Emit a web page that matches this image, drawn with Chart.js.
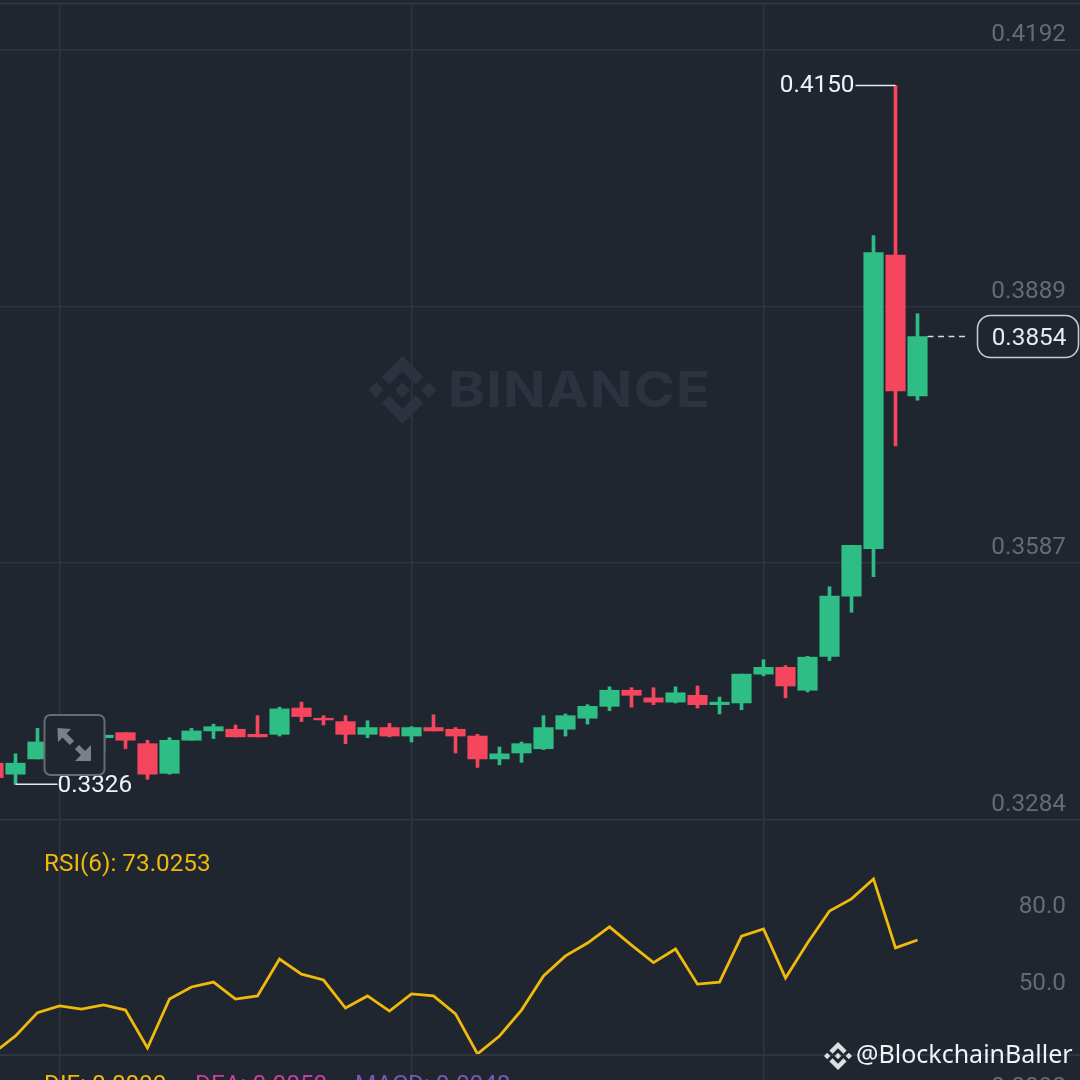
<!DOCTYPE html>
<html>
<head>
<meta charset="utf-8">
<title>Candlestick chart</title>
<style>
  html, body { margin: 0; padding: 0; background: #1f2630; }
  canvas { display: block; }
</style>
<script src="https://cdn.jsdelivr.net/npm/chart.js@4"></script>
</head>
<body>
<canvas id="chart" width="1080" height="1080"></canvas>
<script>
const opens = [
  0.3351, 0.3338, 0.3356, 0.3372, 0.3376, 0.3381, 0.3387, 0.3374, 0.3339, 0.3378,
  0.3389, 0.3391, 0.3385, 0.3385, 0.3416, 0.3404, 0.3400, 0.3385, 0.3393, 0.3383,
  0.3393, 0.3391, 0.3383, 0.3356, 0.3363, 0.3368, 0.3391, 0.3404, 0.3418, 0.3437,
  0.3428, 0.3423, 0.3431, 0.3420, 0.3422, 0.3456, 0.3464, 0.3437, 0.3477, 0.3548,
  0.3604, 0.3950, 0.3784
];
const closes = [
  0.3334, 0.3351, 0.3376, 0.3387, 0.3383, 0.3384, 0.3378, 0.3338, 0.3378, 0.3389,
  0.3394, 0.3382, 0.3382, 0.3415, 0.3406, 0.3402, 0.3385, 0.3393, 0.3383, 0.3393,
  0.3389, 0.3383, 0.3356, 0.3362, 0.3374, 0.3393, 0.3407, 0.3418, 0.3437, 0.3431,
  0.3423, 0.3434, 0.3420, 0.3423, 0.3456, 0.3464, 0.3442, 0.3476, 0.3548, 0.3608,
  0.3953, 0.3790, 0.3854
];
const highs = [
  0.3351, 0.3362, 0.3392, 0.3392, 0.3387, 0.3384, 0.3387, 0.3378, 0.3381, 0.3392,
  0.3397, 0.3396, 0.3407, 0.3417, 0.3423, 0.3407, 0.3407, 0.3401, 0.3398, 0.3394,
  0.3408, 0.3393, 0.3385, 0.3370, 0.3376, 0.3407, 0.3409, 0.3420, 0.3441, 0.3440,
  0.3440, 0.3441, 0.3442, 0.3429, 0.3456, 0.3473, 0.3466, 0.3477, 0.3559, 0.3608,
  0.3973, 0.4150, 0.3881
];
const lows = [
  0.3334, 0.3326, 0.3356, 0.3367, 0.3372, 0.3364, 0.3368, 0.3332, 0.3338, 0.3378,
  0.3380, 0.3382, 0.3382, 0.3383, 0.3400, 0.3396, 0.3374, 0.3381, 0.3382, 0.3376,
  0.3389, 0.3363, 0.3346, 0.3349, 0.3352, 0.3367, 0.3383, 0.3397, 0.3413, 0.3417,
  0.3420, 0.3422, 0.3416, 0.3409, 0.3414, 0.3454, 0.3428, 0.3435, 0.3472, 0.3529,
  0.3571, 0.3725, 0.3779
];
const rsiValues = [
  29.0, 35.6, 44.7, 47.3, 46.1, 47.7, 45.7, 30.9, 50.0, 54.7,
  56.6, 50.0, 51.2, 65.6, 59.7, 57.4, 46.5, 51.2, 45.3, 52.0,
  51.2, 44.2, 28.6, 35.6, 45.7, 59.0, 66.8, 71.8, 78.1, 71.0,
  64.2, 69.5, 55.8, 56.6, 74.5, 77.3, 58.2, 71.8, 84.3, 89.0,
  96.8, 69.9, 73.0
];

const priceTicks = [0.4192, 0.3889, 0.3587, 0.3284];
const rsiTicks = [80, 50];
const timeTicks = [0, 16, 32];

const maxPriceLabel = "0.4150";
const minPriceLabel = "0.3326";
const lastPriceLabel = "0.3854";
const rsiLabel = "RSI(6): 73.0253";
const macdLabels = ["DIF: 0.0099", "DEA: 0.0050", "MACD: 0.0048"];
const macdTickLabel = "0.0098";
const watermarkText = "BINANCE";
const handleText = "@BlockchainBaller";

const BG = "#1f2630";
const GRID = "#2f3541";
const UP = "#2ebd85";
const DOWN = "#f6465d";
const AXIS_TEXT = "#656b76";
const FONT = "Roboto, sans-serif";

const candleX = opens.map((_, i) => i - 3);
const isUp = opens.map((o, i) => closes[i] >= o);
const candleColors = isUp.map(up => up ? UP : DOWN);


/* =====================================================
   BINANCE LOGO
===================================================== */
function drawLogo(ctx, cx, cy, r, color) {

  const diamond = (dx, half) => {
    ctx.moveTo(cx + (dx - half) * r, cy);
    ctx.lineTo(cx + dx * r, cy - half * r);
    ctx.lineTo(cx + (dx + half) * r, cy);
    ctx.lineTo(cx + dx * r, cy + half * r);
    ctx.closePath();
  };

  const chevron = (s) => {
    ctx.moveTo(cx - 0.388 * r, cy + s * 0.16 * r);
    ctx.lineTo(cx, cy + s * 0.552 * r);
    ctx.lineTo(cx + 0.388 * r, cy + s * 0.16 * r);
    ctx.lineTo(cx + 0.614 * r, cy + s * 0.386 * r);
    ctx.lineTo(cx, cy + s * r);
    ctx.lineTo(cx - 0.614 * r, cy + s * 0.386 * r);
    ctx.closePath();
  };

  ctx.save();
  ctx.fillStyle = color;
  ctx.beginPath();
  diamond(0, 0.226);
  diamond(-0.774, 0.226);
  diamond(0.774, 0.226);
  chevron(-1);
  chevron(1);
  ctx.fill();
  ctx.restore();
}

function drawText(ctx, text, x, y, color, size, align) {
  ctx.font = `${size}px ${FONT}`;
  ctx.fillStyle = color;
  ctx.textAlign = align || "left";
  ctx.textBaseline = "middle";
  ctx.fillText(text, x, y);
}

function hLine(ctx, x1, x2, y, color, width) {
  ctx.strokeStyle = color;
  ctx.lineWidth = width;
  ctx.beginPath();
  ctx.moveTo(x1, y);
  ctx.lineTo(x2, y);
  ctx.stroke();
}

// mirrored axes sit on top of the plot and must not take any room from it
function noAxisRoom(axis) {
  axis.width = 0;
  axis.paddingTop = 0;
  axis.paddingBottom = 0;
}


/* =====================================================
   WATERMARK (UNDER THE CANDLES)
===================================================== */
const watermarkPlugin = {
  id: "watermark",
  beforeDatasetsDraw(chart) {
    const ctx = chart.ctx;
    drawLogo(ctx, 402.5, 390, 34, "#2d333e");
    ctx.save();
    ctx.translate(448, 392);
    ctx.scale(1.12, 1);
    ctx.font = "bold 50px Inter, Lato, sans-serif";
    ctx.letterSpacing = "1px";
    ctx.fillStyle = "#2d333e";
    ctx.textAlign = "left";
    ctx.textBaseline = "middle";
    ctx.fillText(watermarkText, 0, 0);
    ctx.restore();
  }
};


/* =====================================================
   LABELS, PANEL LINES, EXPAND BUTTON
===================================================== */
const overlayPlugin = {
  id: "overlay",
  afterDraw(chart) {
    const ctx = chart.ctx;
    const xs = chart.scales.x;
    const ys = chart.scales.y;

    ctx.save();

    // panel lines
    ctx.fillStyle = BG;
    ctx.fillRect(0, 0, 1080, 3);
    hLine(ctx, 0, 1080, 3.5, GRID, 2);
    hLine(ctx, 0, 1080, 1055, GRID, 2);

    // highest price marker
    const iMax = highs.indexOf(Math.max(...highs));
    const maxX = xs.getPixelForValue(candleX[iMax]);
    const maxY = ys.getPixelForValue(highs[iMax]);
    hLine(ctx, maxX - 40, maxX, maxY, "#e6e8ea", 1.5);
    drawText(ctx, maxPriceLabel, maxX - 41, maxY, "#f2f3f5", 24.3, "right");

    // lowest price marker
    const iMin = lows.indexOf(Math.min(...lows));
    const minX = xs.getPixelForValue(candleX[iMin]);
    const minY = ys.getPixelForValue(lows[iMin]);
    hLine(ctx, minX, minX + 42, minY, "#e6e8ea", 1.5);
    drawText(ctx, minPriceLabel, minX + 42, minY + 2, "#f2f3f5", 24.3);

    // last price box
    const last = closes.length - 1;
    const lastY = ys.getPixelForValue(closes[last]);
    const lastX = xs.getPixelForValue(candleX[last]);
    ctx.setLineDash([6, 4.5]);
    hLine(ctx, lastX + 10, 967, lastY, "#d5d8dc", 1.5);
    ctx.setLineDash([]);
    ctx.strokeStyle = "#c9ccd2";
    ctx.lineWidth = 1.5;
    ctx.beginPath();
    ctx.roundRect(977.5, lastY - 21, 101, 42, 13);
    ctx.stroke();
    drawText(ctx, lastPriceLabel, 1029, lastY + 2.5, "#e8eaed", 24.3, "center");

    // indicator legends
    drawText(ctx, rsiLabel, 44, 865, "#f0b90b", 24.3);
    drawText(ctx, macdLabels[0], 44, 1086, "#f0b90b", 24.3);
    drawText(ctx, macdLabels[1], 195, 1086, "#c83fa0", 24.3);
    drawText(ctx, macdLabels[2], 355, 1086, "#7f55b4", 24.3);
    drawText(ctx, macdTickLabel, 1066, 1088, AXIS_TEXT, 24.3, "right");

    // expand button
    ctx.fillStyle = BG;
    ctx.strokeStyle = "#666b75";
    ctx.lineWidth = 2;
    ctx.beginPath();
    ctx.roundRect(44.5, 715, 60, 60, 6);
    ctx.fill();
    ctx.stroke();

    ctx.fillStyle = "#7c7f88";
    ctx.beginPath();
    ctx.moveTo(57.5, 728);
    ctx.lineTo(71, 729);
    ctx.lineTo(58, 742);
    ctx.closePath();
    ctx.moveTo(91, 761);
    ctx.lineTo(75, 761);
    ctx.lineTo(91, 745);
    ctx.closePath();
    ctx.fill();
    ctx.strokeStyle = "#7c7f88";
    ctx.lineWidth = 6;
    ctx.beginPath();
    ctx.moveTo(63, 734);
    ctx.lineTo(72, 743);
    ctx.moveTo(77, 747);
    ctx.lineTo(85, 755);
    ctx.stroke();

    // author handle
    drawLogo(ctx, 838, 1056, 14, "#dcdee1");
    ctx.font = "25px 'Noto Sans', sans-serif";
    ctx.fillStyle = "#f2f3f5";
    ctx.textAlign = "left";
    ctx.textBaseline = "middle";
    ctx.fillText(handleText, 856, 1056);

    ctx.restore();
  }
};


/* =====================================================
   CHART
===================================================== */
new Chart(document.getElementById("chart").getContext("2d"), {
  data: {
    datasets: [
      {
        type: "bar",
        order: 3,
        grouped: false,
        barThickness: 3,
        yAxisID: "y",
        backgroundColor: candleColors,
        data: candleX.map((x, i) => ({ x, y: [lows[i], highs[i]] }))
      },
      {
        type: "bar",
        order: 2,
        grouped: false,
        barThickness: 19.5,
        yAxisID: "y",
        backgroundColor: candleColors,
        data: candleX.map((x, i) => ({ x, y: [opens[i], closes[i]] }))
      },
      {
        type: "line",
        order: 1,
        yAxisID: "rsi",
        borderColor: "#f0b90b",
        borderWidth: 2.8,
        tension: 0,
        pointRadius: 0,
        data: candleX.map((x, i) => ({ x, y: rsiValues[i] }))
      }
    ]
  },
  options: {
    responsive: false,
    animation: false,
    layout: { padding: 0 },
    plugins: {
      legend: { display: false },
      tooltip: { enabled: false }
    },
    scales: {
      x: {
        type: "linear",
        offset: false,
        min: -2.7045,
        max: 46.386,
        border: { display: false },
        grid: { offset: false, color: GRID, lineWidth: 1.5, drawTicks: false },
        ticks: { display: false },
        afterBuildTicks: axis => {
          axis.ticks = timeTicks.map(value => ({ value }));
        }
      },
      y: {
        position: "right",
        min: 0.29774,
        max: 0.42509,
        border: { display: false },
        grid: { color: GRID, lineWidth: 1.5, drawTicks: false },
        ticks: {
          mirror: true,
          padding: -14,
          labelOffset: -15,
          color: AXIS_TEXT,
          font: { family: FONT, size: 24.3 },
          callback: v => v.toFixed(4)
        },
        afterBuildTicks: axis => {
          axis.ticks = priceTicks.map(value => ({ value }));
        },
        afterFit: noAxisRoom
      },
      rsi: {
        position: "right",
        min: 18.45,
        max: 439.2,
        border: { display: false },
        grid: { display: false, drawTicks: false },
        ticks: {
          mirror: true,
          padding: -14,
          labelOffset: -15,
          color: AXIS_TEXT,
          font: { family: FONT, size: 24.3 },
          callback: v => v.toFixed(1)
        },
        afterBuildTicks: axis => {
          axis.ticks = rsiTicks.map(value => ({ value }));
        },
        afterFit: noAxisRoom
      }
    }
  },
  plugins: [watermarkPlugin, overlayPlugin]
});
</script>
</body>
</html>
